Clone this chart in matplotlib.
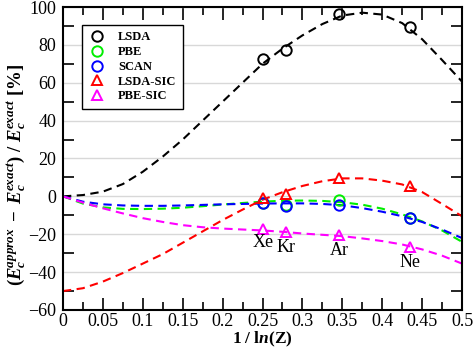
import matplotlib
matplotlib.use('Agg')
import matplotlib.pyplot as plt
from matplotlib.ticker import MultipleLocator, FixedLocator

plt.rcParams['font.family'] = ['Liberation Serif', 'DejaVu Serif']
plt.rcParams['mathtext.fontset'] = 'custom'
plt.rcParams['mathtext.rm'] = 'Liberation Serif'
plt.rcParams['mathtext.it'] = 'Liberation Serif:italic'
plt.rcParams['mathtext.bf'] = 'Liberation Serif:bold'
plt.rcParams['mathtext.bfit'] = 'Liberation Serif:bold:italic'

# atoms and their 1/ln(Z) positions
atoms = ['Xe', 'Kr', 'Ar', 'Ne']
inv_lnz = [0.2507, 0.2791, 0.3460, 0.4343]

# computed errors [%]
lsda = [72.7, 77.3, 96.5, 89.6]
pbe = [-3.5, -4.5, -1.9, -11.2]
scan = [-3.7, -4.9, -4.5, -11.5]
lsda_sic = [-0.7, 1.0, 9.9, 5.7]
pbe_sic = [-17.0, -18.8, -20.6, -26.5]

# fitted curves
fit_x = [0, 0.025, 0.05, 0.075, 0.1, 0.125, 0.15, 0.175, 0.2, 0.225, 0.25,
         0.275, 0.3, 0.325, 0.35, 0.375, 0.4, 0.425, 0.45, 0.475, 0.5]
fit_lsda = [0, 0.7, 2.5, 6.5, 13, 21, 30, 40, 50, 60, 70,
            78, 85, 91, 95.5, 97, 96, 91.5, 83, 72, 60.6]
fit_pbe = [0, -3.8, -5.8, -6.6, -6.7, -6.5, -6.0, -5.2, -4.3, -3.5, -2.8,
           -2.3, -2.2, -2.4, -3.1, -4.4, -6.5, -9.5, -13.2, -18, -24]
fit_scan = [0, -2.8, -4.2, -4.8, -5.0, -5.0, -4.8, -4.5, -4.2, -4.0, -3.8,
            -3.7, -3.7, -4.0, -4.7, -6.2, -8.1, -10.5, -13.5, -17.5, -22]
fit_lsda_sic = [-50, -48.5, -45, -40.5, -35.5, -30.5, -24.5, -18.5, -12.5, -7, -1.8,
                2.2, 5.5, 8, 9.5, 9.5, 8.3, 6.3, 2.3, -4, -10.5]
fit_pbe_sic = [0, -3.3, -6.3, -9, -11.5, -13.5, -15.2, -16.3, -17, -17.5, -18,
               -18.7, -19.6, -20.3, -21, -22.2, -23.6, -25.4, -28, -31.3, -35.5]

x_ticks = [0, 0.05, 0.1, 0.15, 0.2, 0.25, 0.3, 0.35, 0.4, 0.45, 0.5]
x_labels = ['0', '0.05', '0.1', '0.15', '0.2', '0.25', '0.3', '0.35', '0.4', '0.45', '0.5']
y_ticks = [-60, -40, -20, 0, 20, 40, 60, 80, 100]

# atom label positions below the PBE-SIC points
label_y = [-24.5, -27, -28.8, -34.8]

fig = plt.figure(figsize=(4.74, 3.5), dpi=100)
ax = fig.add_axes([0.1329, 0.1143, 0.8418, 0.8657])

green = '#00ee00'
series = [
    ('LSDA', lsda, fit_lsda, 'black', 'o'),
    ('PBE', pbe, fit_pbe, green, 'o'),
    ('SCAN', scan, fit_scan, 'blue', 'o'),
    ('LSDA-SIC', lsda_sic, fit_lsda_sic, 'red', '^'),
    ('PBE-SIC', pbe_sic, fit_pbe_sic, 'magenta', '^'),
]

# dashed fits first, then markers on top
for name, vals, fit, col, mk in series:
    ax.plot(fit_x, fit, color=col, ls=(0, (4, 2.6)), lw=1.5, zorder=2)
for name, vals, fit, col, mk in series:
    ax.plot(inv_lnz, vals, ls='none', marker=mk, ms=7.5, mfc='none',
            mec=col, mew=1.4, label=name, zorder=3)

for a, xv, yv in zip(atoms, inv_lnz, label_y):
    ax.text(xv, yv, a, ha='center', va='center', fontsize=13)

ax.set_xlim(0, 0.5)
ax.set_ylim(-60, 100)
ax.set_xticks(x_ticks)
ax.set_xticklabels(x_labels)
ax.set_yticks(y_ticks)
ax.xaxis.set_minor_locator(MultipleLocator(0.025))
ax.yaxis.set_minor_locator(FixedLocator([-50, -30, -10, 10, 30, 50, 70, 90]))
ax.grid(axis='y', which='major', color='#d8d8d8', lw=1.0, zorder=0)
ax.set_axisbelow(True)

ax.tick_params(axis='both', which='both', direction='in', top=True, right=True,
               labelsize=13, width=1.2)
ax.tick_params(axis='x', which='major', length=9, pad=2)
ax.tick_params(axis='x', which='minor', length=6)
ax.tick_params(axis='y', which='major', length=0, pad=5)
ax.tick_params(axis='y', which='minor', length=8)
for sp in ax.spines.values():
    sp.set_linewidth(1.5)

leg = ax.legend(loc='upper left', bbox_to_anchor=(0.047, 0.94), borderaxespad=0,
                frameon=True, fancybox=False, edgecolor='black', framealpha=1,
                prop={'weight': 'bold', 'size': 9}, handletextpad=0.9,
                labelspacing=0.22, borderpad=0.5, handlelength=1.5)
leg.get_frame().set_linewidth(1.0)

fig.text(0.553, 0.004, r'$\mathbf{1\ /\ l}\mathbfit{n}\mathbf{(Z)}$',
         ha='center', va='bottom', fontsize=12.5)
fig.text(0.034, 0.5,
         r'$\mathbf{(}\mathbfit{E_c^{approx}}\mathbf{\ -\ }\mathbfit{E_c^{exact}}'
         r'\mathbf{)\ /\ }\mathbfit{E_c^{exact}}\mathbf{\ [\%]}$',
         ha='center', va='center', rotation=90, fontsize=13.5)

fig.savefig('out.png', dpi=100)
